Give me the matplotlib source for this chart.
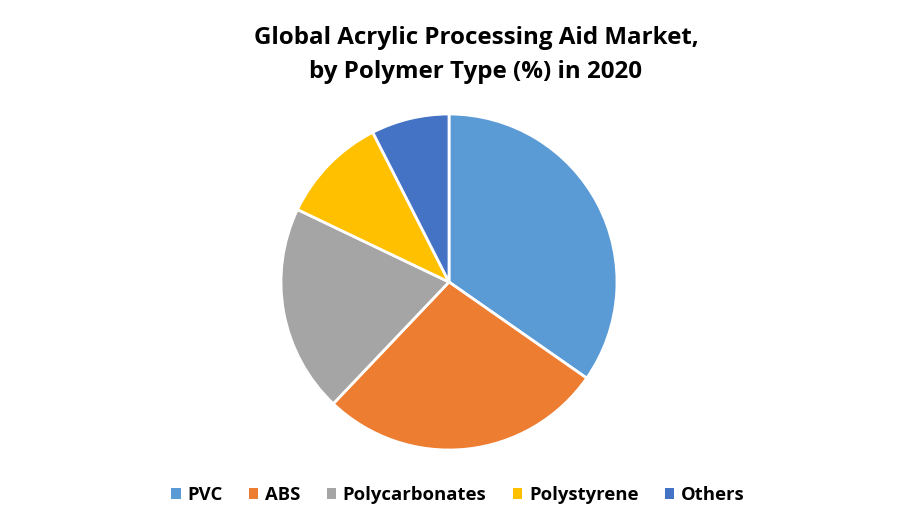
import matplotlib.pyplot as plt
from matplotlib.patches import Patch

labels = ["PVC", "ABS", "Polycarbonates", "Polystyrene", "Others"]
shares = [34.7, 27.4, 20.0, 10.4, 7.5]
colors = ["#5B9BD5", "#ED7D31", "#A5A5A5", "#FFC000", "#4472C4"]

plt.rcParams["font.family"] = ["Open Sans", "DejaVu Sans"]

fig = plt.figure(figsize=(9, 5.25), dpi=100)
W, H = 900, 525
cx, cy, r = 449, 282, 168
ax = fig.add_axes([(cx - r) / W, 1 - (cy + r) / H, 2 * r / W, 2 * r / H])
ax.pie(shares, colors=colors, startangle=90, counterclock=False,
       wedgeprops=dict(edgecolor="white", linewidth=2), radius=1)
ax.set_xlim(-1, 1)
ax.set_ylim(-1, 1)
ax.set_aspect("equal")

fig.text(476 / W, 1 - 55 / H, "Global Acrylic Processing Aid Market,\nby Polymer Type (%) in 2020",
         ha="center", va="center", fontsize=17.4, fontweight="bold", linespacing=1.5)

handles = [Patch(facecolor=c, edgecolor="none") for c in colors]
fig.legend(handles, labels, loc="center", bbox_to_anchor=(458 / W, 1 - 495 / H), ncol=5,
           frameon=False, prop=dict(weight="bold", size=13.3),
           handlelength=0.5, handleheight=0.5, handletextpad=0.35, columnspacing=1.45)

fig.savefig("out.png", dpi=100)
